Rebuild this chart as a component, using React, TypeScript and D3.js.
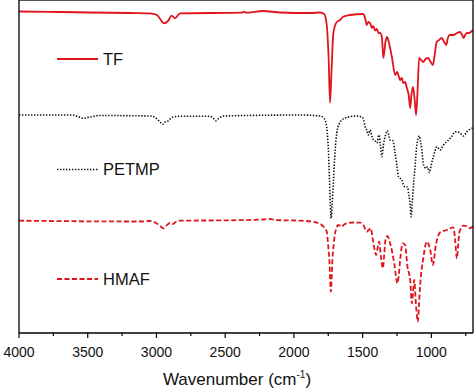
import React from "react";
import * as d3 from "d3";

// wavenumber (cm-1), intensity (arbitrary units, offset per trace)
const tfData: [number, number][] = [
  [4000, 321.5], [3702, 321], [3483, 320.5], [3192, 320], [3047, 319.7], [2996, 318], [2945, 309.7], [2916, 312],
  [2889, 317.3], [2865, 314.7], [2828, 319.7], [2377, 320.3], [2362, 321.3], [2348, 320.3], [2224, 322], [2100, 320.5],
  [1882, 320], [1809, 320.5], [1780, 319], [1761, 308], [1747, 273], [1737, 230.3], [1726, 263], [1713, 300],
  [1688, 311], [1664, 313], [1642, 316.3], [1591, 318], [1496, 319], [1482, 315], [1470, 308], [1458, 311],
  [1445, 309.7], [1433, 305], [1424, 307], [1409, 302.5], [1397, 304], [1384, 300], [1373, 300], [1360, 296],
  [1349, 275], [1334, 291], [1322, 296], [1305, 288], [1287, 276], [1263, 258], [1249, 261], [1227, 253],
  [1215, 255], [1205, 250], [1191, 251], [1178, 245], [1165, 238], [1154, 225], [1145, 238], [1134, 246],
  [1121, 233], [1111, 218], [1100, 243], [1089, 275], [1074, 273], [1060, 271], [1042, 274], [1023, 275],
  [1005, 271], [989, 268], [976, 278], [961, 291], [943, 293], [924, 295], [907, 291], [892, 288],
  [880, 295], [868, 298], [841, 298], [814, 300], [790, 301], [776, 298], [766, 295], [754, 298],
  [742, 300], [725, 300], [705, 302], [696, 303],
];

const petmpData: [number, number][] = [
  [4000, 218], [3607, 218], [3571, 216.5], [3534, 214.7], [3483, 216], [3410, 217.5], [3047, 217], [3010, 215.5],
  [2981, 212], [2954, 208.7], [2937, 211], [2916, 212], [2897, 214.5], [2879, 216], [2828, 216.7], [2610, 216.7],
  [2588, 215], [2568, 212.3], [2544, 215], [2501, 217], [2246, 217.7], [1955, 218], [1809, 217], [1787, 215.5],
  [1773, 213], [1758, 201], [1749, 183], [1741, 153], [1735, 128], [1729, 114.7], [1722, 128], [1713, 150],
  [1700, 183], [1688, 200], [1671, 209], [1651, 213], [1627, 215], [1591, 216.3], [1547, 217], [1506, 216],
  [1493, 213], [1482, 206.3], [1470, 203], [1458, 198], [1445, 203], [1433, 197], [1421, 193], [1409, 192],
  [1397, 190], [1380, 198], [1371, 188], [1360, 176.3], [1349, 188], [1336, 196.3], [1320, 202.3], [1307, 196],
  [1300, 193], [1280, 192.3], [1264, 180], [1251, 168], [1239, 156.3], [1215, 153], [1202, 148], [1191, 146],
  [1174, 146], [1164, 138], [1154, 128], [1147, 116.3], [1138, 133], [1125, 156.3], [1115, 173], [1106, 188],
  [1096, 195], [1087, 197], [1078, 191], [1069, 183], [1057, 168], [1038, 164.7], [1027, 166], [1014, 160.3],
  [1001, 168], [985, 176.3], [960, 186.3], [936, 183], [912, 188], [875, 193], [849, 197], [827, 201.3],
  [795, 200.3], [766, 197], [742, 201.3], [705, 204.7], [696, 205],
];

const hmafData: [number, number][] = [
  [4000, 112.3], [3119, 111.5], [3047, 112], [3003, 110], [2974, 107], [2950, 104.7], [2927, 107.5], [2901, 110],
  [2883, 109], [2843, 112.3], [2464, 112.7], [2231, 113.5], [2173, 114], [2137, 113], [1955, 112.3], [1860, 111.3],
  [1824, 110], [1797, 108], [1777, 105], [1761, 101.3], [1751, 88], [1742, 73], [1731, 41.3], [1726, 53],
  [1720, 73], [1711, 88], [1700, 100], [1676, 108], [1651, 106.3], [1635, 108.5], [1615, 109.7], [1569, 110.5],
  [1518, 110.3], [1494, 108], [1470, 101.3], [1455, 103], [1440, 104.7], [1431, 98], [1421, 89.7], [1402, 78],
  [1391, 85], [1380, 91.3], [1367, 76.3], [1353, 64.7], [1343, 78], [1334, 93], [1319, 97], [1300, 89.7],
  [1285, 81], [1270, 69.7], [1247, 49.7], [1237, 58], [1227, 73], [1208, 89.7], [1191, 88], [1174, 66.3],
  [1154, 53], [1142, 29.7], [1133, 41], [1125, 53], [1111, 26.3], [1098, 11.3], [1090, 28], [1082, 46.3],
  [1057, 76.3], [1033, 91.3], [1008, 83], [989, 68], [967, 88], [936, 100.7], [887, 103], [839, 105.7],
  [827, 93], [814, 74.7], [805, 88], [795, 101.3], [766, 107.3], [737, 106.3], [718, 104.7], [696, 107],
];

const seriesNames = ["TF", "PETMP", "HMAF"];
const xTicks = [4000, 3500, 3000, 2500, 2000, 1500, 1000];
const xMinorTicks = [3750, 3250, 2750, 2250, 1750, 1250, 750];

const W = 474;
const H = 391;
const left = 19;
const right = 473;
const top = 1;
const bottom = 333;

export default function App() {
  const x = d3.scaleLinear().domain([4000, 697]).range([left, right]);
  const y = d3.scaleLinear().domain([0, 332]).range([bottom, top]);
  const line = d3
    .line<[number, number]>()
    .x((d) => x(d[0]))
    .y((d) => y(d[1]))
    .curve(d3.curveMonotoneX);

  const red = "#e0141d";
  const styles = [
    { data: tfData, stroke: red, dash: undefined as string | undefined, width: 1.8, ly: 59, ty: 65 },
    { data: petmpData, stroke: "#111", dash: "1.4,1.6", width: 1.6, ly: 169.5, ty: 175 },
    { data: hmafData, stroke: red, dash: "5,2.5", width: 1.8, ly: 279, ty: 285 },
  ];

  return (
    <svg
      width={W}
      height={H}
      style={{ position: "absolute", left: 0, top: 0, background: "#fff" }}
      fontFamily="Arial, 'Liberation Sans', sans-serif"
    >
      <rect x={0} y={0} width={W} height={H} fill="#fff" />
      <defs>
        <clipPath id="plot">
          <rect x={left} y={top} width={right - left} height={bottom - top} />
        </clipPath>
      </defs>
      <g clipPath="url(#plot)">
        {styles.map((s, i) => (
          <path
            key={i}
            d={line(s.data) || ""}
            fill="none"
            stroke={s.stroke}
            strokeWidth={s.width}
            strokeDasharray={s.dash}
            strokeLinejoin="round"
          />
        ))}
      </g>
      {/* frame */}
      <line x1={left} x2={right} y1={0.5} y2={0.5} stroke="#555" strokeWidth={1.2} />
      <line x1={left} x2={left} y1={0} y2={bottom} stroke="#000" strokeWidth={1.3} />
      <line x1={right} x2={right} y1={0} y2={bottom} stroke="#000" strokeWidth={1.3} />
      <line x1={left} x2={right} y1={bottom} y2={bottom} stroke="#000" strokeWidth={1.3} />
      {/* ticks */}
      {xTicks.map((t) => (
        <g key={t}>
          <line x1={x(t)} x2={x(t)} y1={bottom} y2={bottom + 5} stroke="#000" strokeWidth={1.2} />
          <text x={x(t)} y={357} textAnchor="middle" fontSize={14} fill="#111">
            {t}
          </text>
        </g>
      ))}
      {xMinorTicks.map((t) => (
        <line key={t} x1={x(t)} x2={x(t)} y1={bottom} y2={bottom + 3} stroke="#000" strokeWidth={1.2} />
      ))}
      <text x={237} y={385} textAnchor="middle" fontSize={17} fill="#111">
        Wavenumber (cm
        <tspan fontSize={10} dy={-7}>-1</tspan>
        <tspan dy={7}>)</tspan>
      </text>
      {/* legend */}
      {styles.map((s, i) => (
        <g key={"lg" + i}>
          <line
            x1={57}
            x2={98}
            y1={s.ly}
            y2={s.ly}
            stroke={s.stroke}
            strokeWidth={s.width}
            strokeDasharray={s.dash}
          />
          <text x={103} y={s.ty} fontSize={16.5} fill="#111">
            {seriesNames[i]}
          </text>
        </g>
      ))}
    </svg>
  );
}
